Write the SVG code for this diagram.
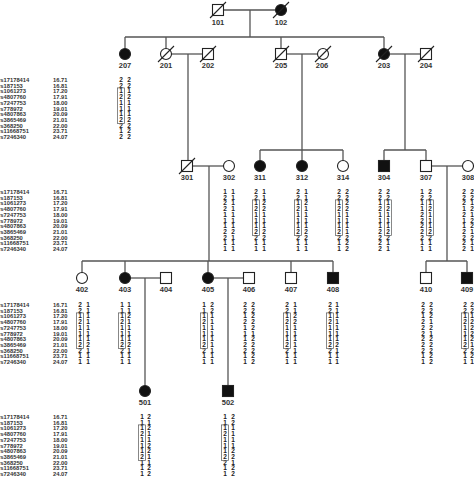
<svg xmlns="http://www.w3.org/2000/svg" xmlns:xlink="http://www.w3.org/1999/xlink" width="474" height="477" viewBox="0 0 474 477">
<style>
.ln{stroke:#555;stroke-width:1.3;fill:none}
.sym{stroke:#222;stroke-width:1.1;fill:#fff}
.aff{fill:#111}
.sl{stroke:#222;stroke-width:1.1}
.lb{font-family:"Liberation Sans",Arial,sans-serif;font-weight:bold;font-size:7.5px;fill:#333;text-anchor:middle}
.g{font-family:"Liberation Sans",Arial,sans-serif;font-weight:bold;font-size:6.5px;fill:#222;text-anchor:middle}
.mk{font-family:"Liberation Sans",Arial,sans-serif;font-weight:bold;font-size:5.8px;fill:#333}
.bx{fill:none;stroke:#555;stroke-width:0.7}
</style>
<defs>
<g id="markers">
<text class="mk"><tspan x="-2" y="0">rs17178414</tspan><tspan x="-2" y="5.7">rs187153</tspan><tspan x="-2" y="11.4">rs1061273</tspan><tspan x="-2" y="17.1">rs4807760</tspan><tspan x="-2" y="22.8">rs7247753</tspan><tspan x="-2" y="28.5">rs778972</tspan><tspan x="-2" y="34.2">rs4807863</tspan><tspan x="-2" y="39.9">rs3865469</tspan><tspan x="-2" y="45.6">rs368250</tspan><tspan x="-2" y="51.3">rs11668751</tspan><tspan x="-2" y="57">rs7246340</tspan></text>
<text class="mk"><tspan x="53" y="0">16.71</tspan><tspan x="53" y="5.7">16.81</tspan><tspan x="53" y="11.4">17.20</tspan><tspan x="53" y="17.1">17.91</tspan><tspan x="53" y="22.8">18.00</tspan><tspan x="53" y="28.5">19.01</tspan><tspan x="53" y="34.2">20.09</tspan><tspan x="53" y="39.9">21.01</tspan><tspan x="53" y="45.6">22.00</tspan><tspan x="53" y="51.3">23.71</tspan><tspan x="53" y="57">24.07</tspan></text>
</g>
</defs>

<g id="marker-lists">
<use xlink:href="#markers" href="#markers" x="0" y="82"/>
<use xlink:href="#markers" href="#markers" x="0" y="194"/>
<use xlink:href="#markers" href="#markers" x="0" y="307"/>
<use xlink:href="#markers" href="#markers" x="0" y="419"/>
</g>

<g id="connectors">
<line class="ln" x1="223.5" y1="10" x2="275.5" y2="10"/>
<line class="ln" x1="250" y1="10" x2="250" y2="37"/>
<line class="ln" x1="125" y1="37" x2="384" y2="37"/>
<line class="ln" x1="125" y1="37" x2="125" y2="48.5"/>
<line class="ln" x1="166" y1="37" x2="166" y2="48.5"/>
<line class="ln" x1="281" y1="37" x2="281" y2="48.5"/>
<line class="ln" x1="384" y1="37" x2="384" y2="48.5"/>
<line class="ln" x1="171.5" y1="54" x2="202.5" y2="54"/>
<line class="ln" x1="188" y1="54" x2="188" y2="160.5"/>
<line class="ln" x1="286.5" y1="54" x2="317.5" y2="54"/>
<line class="ln" x1="302" y1="54" x2="302" y2="150"/>
<line class="ln" x1="389.5" y1="54" x2="420.5" y2="54"/>
<line class="ln" x1="405" y1="54" x2="405" y2="150"/>
<line class="ln" x1="260" y1="150" x2="343" y2="150"/>
<line class="ln" x1="260" y1="150" x2="260" y2="160.5"/>
<line class="ln" x1="302" y1="150" x2="302" y2="160.5"/>
<line class="ln" x1="343" y1="150" x2="343" y2="160.5"/>
<line class="ln" x1="384" y1="150" x2="426" y2="150"/>
<line class="ln" x1="384" y1="150" x2="384" y2="160.5"/>
<line class="ln" x1="426" y1="150" x2="426" y2="160.5"/>
<line class="ln" x1="192.5" y1="166" x2="223.5" y2="166"/>
<line class="ln" x1="209" y1="166" x2="209" y2="261"/>
<line class="ln" x1="431.5" y1="166" x2="462.5" y2="166"/>
<line class="ln" x1="447" y1="166" x2="447" y2="261"/>
<line class="ln" x1="82" y1="261" x2="333" y2="261"/>
<line class="ln" x1="82" y1="261" x2="82" y2="272.5"/>
<line class="ln" x1="125" y1="261" x2="125" y2="272.5"/>
<line class="ln" x1="208" y1="261" x2="208" y2="272.5"/>
<line class="ln" x1="291" y1="261" x2="291" y2="272.5"/>
<line class="ln" x1="333" y1="261" x2="333" y2="272.5"/>
<line class="ln" x1="426" y1="261" x2="467" y2="261"/>
<line class="ln" x1="426" y1="261" x2="426" y2="272.5"/>
<line class="ln" x1="467" y1="261" x2="467" y2="272.5"/>
<line class="ln" x1="130.5" y1="278" x2="160.5" y2="278"/>
<line class="ln" x1="145" y1="278" x2="145" y2="385.5"/>
<line class="ln" x1="213.5" y1="278" x2="243.5" y2="278"/>
<line class="ln" x1="228" y1="278" x2="228" y2="385.5"/>
</g>

<g id="n101"><rect class="sym" x="212.5" y="4.5" width="11" height="11"/><line class="sl" x1="210" y1="18" x2="226" y2="2"/><text class="lb" x="218" y="24.5">101</text></g>
<g id="n102"><circle class="sym aff" cx="281" cy="10" r="5.5"/><line class="sl" x1="273" y1="18" x2="289" y2="2"/><text class="lb" x="281" y="24.5">102</text></g>

<g id="n207"><circle class="sym aff" cx="125" cy="54" r="5.5"/><text class="lb" x="125" y="68">207</text>
<text class="g" transform="translate(121,82)" x="0 0 0 0 0 0 0 0 0 0 0" y="0 5.7 11.4 17.1 22.8 28.5 34.2 39.9 45.6 51.3 57">22121112212</text>
<text class="g" transform="translate(129,82)" x="0 0 0 0 0 0 0 0 0 0 0" y="0 5.7 11.4 17.1 22.8 28.5 34.2 39.9 45.6 51.3 57">22121112222</text>
<rect class="bx" x="117.5" y="87.9" width="7" height="35.5"/></g>
<g id="n201"><circle class="sym" cx="166" cy="54" r="5.5"/><line class="sl" x1="158" y1="62" x2="174" y2="46"/><text class="lb" x="166" y="68">201</text></g>
<g id="n202"><rect class="sym" x="202.5" y="48.5" width="11" height="11"/><line class="sl" x1="200" y1="62" x2="216" y2="46"/><text class="lb" x="208" y="68">202</text></g>
<g id="n205"><rect class="sym" x="275.5" y="48.5" width="11" height="11"/><line class="sl" x1="273" y1="62" x2="289" y2="46"/><text class="lb" x="281" y="68">205</text></g>
<g id="n206"><circle class="sym" cx="323" cy="54" r="5.5"/><line class="sl" x1="315" y1="62" x2="331" y2="46"/><text class="lb" x="322" y="68">206</text></g>
<g id="n203"><circle class="sym aff" cx="384" cy="54" r="5.5"/><line class="sl" x1="376" y1="62" x2="392" y2="46"/><text class="lb" x="384" y="68">203</text></g>
<g id="n204"><rect class="sym" x="420.5" y="48.5" width="11" height="11"/><line class="sl" x1="418" y1="62" x2="434" y2="46"/><text class="lb" x="426" y="68">204</text></g>

<g id="n301"><rect class="sym" x="181.5" y="160.5" width="11" height="11"/><line class="sl" x1="179" y1="174" x2="195" y2="158"/><text class="lb" x="187" y="180">301</text></g>
<g id="n302"><circle class="sym" cx="229" cy="166" r="5.5"/><text class="lb" x="229" y="180">302</text>
<text class="g" transform="translate(225,194)" x="0 0 0 0 0 0 0 0 0 0 0" y="0 5.7 11.4 17.1 22.8 28.5 34.2 39.9 45.6 51.3 57">12221112211</text>
<text class="g" transform="translate(233,194)" x="0 0 0 0 0 0 0 0 0 0 0" y="0 5.7 11.4 17.1 22.8 28.5 34.2 39.9 45.6 51.3 57">11111112111</text></g>
<g id="n311"><circle class="sym aff" cx="260" cy="166" r="5.5"/><text class="lb" x="260" y="180">311</text>
<text class="g" transform="translate(256,194)" x="0 0 0 0 0 0 0 0 0 0 0" y="0 5.7 11.4 17.1 22.8 28.5 34.2 39.9 45.6 51.3 57">22121112211</text>
<text class="g" transform="translate(264,194)" x="0 0 0 0 0 0 0 0 0 0 0" y="0 5.7 11.4 17.1 22.8 28.5 34.2 39.9 45.6 51.3 57">11221112211</text>
<rect class="bx" x="252.5" y="199.9" width="7" height="35.5"/></g>
<g id="n312"><circle class="sym aff" cx="302" cy="166" r="5.5"/><text class="lb" x="302" y="180">312</text>
<text class="g" transform="translate(298,194)" x="0 0 0 0 0 0 0 0 0 0 0" y="0 5.7 11.4 17.1 22.8 28.5 34.2 39.9 45.6 51.3 57">22121112211</text>
<text class="g" transform="translate(306,194)" x="0 0 0 0 0 0 0 0 0 0 0" y="0 5.7 11.4 17.1 22.8 28.5 34.2 39.9 45.6 51.3 57">11211112211</text>
<rect class="bx" x="294.5" y="199.9" width="7" height="35.5"/></g>
<g id="n314"><circle class="sym" cx="343" cy="166" r="5.5"/><text class="lb" x="343" y="180">314</text>
<text class="g" transform="translate(339,194)" x="0 0 0 0 0 0 0 0 0 0 0" y="0 5.7 11.4 17.1 22.8 28.5 34.2 39.9 45.6 51.3 57">22121112211</text>
<text class="g" transform="translate(347,194)" x="0 0 0 0 0 0 0 0 0 0 0" y="0 5.7 11.4 17.1 22.8 28.5 34.2 39.9 45.6 51.3 57">22221111222</text>
<rect class="bx" x="335.5" y="199.9" width="7" height="35.5"/></g>
<g id="n304"><rect class="sym aff" x="378.5" y="160.5" width="11" height="11"/><text class="lb" x="384" y="180">304</text>
<text class="g" transform="translate(380,194)" x="0 0 0 0 0 0 0 0 0 0 0" y="0 5.7 11.4 17.1 22.8 28.5 34.2 39.9 45.6 51.3 57">22121112222</text>
<text class="g" transform="translate(388,194)" x="0 0 0 0 0 0 0 0 0 0 0" y="0 5.7 11.4 17.1 22.8 28.5 34.2 39.9 45.6 51.3 57">22121112211</text>
<rect class="bx" x="384.5" y="199.9" width="7" height="35.5"/></g>
<g id="n307"><rect class="sym" x="420.5" y="160.5" width="11" height="11"/><text class="lb" x="426" y="180">307</text>
<text class="g" transform="translate(422,194)" x="0 0 0 0 0 0 0 0 0 0 0" y="0 5.7 11.4 17.1 22.8 28.5 34.2 39.9 45.6 51.3 57">12112222211</text>
<text class="g" transform="translate(430,194)" x="0 0 0 0 0 0 0 0 0 0 0" y="0 5.7 11.4 17.1 22.8 28.5 34.2 39.9 45.6 51.3 57">22121112211</text>
<rect class="bx" x="426.5" y="199.9" width="7" height="35.5"/></g>
<g id="n308"><circle class="sym" cx="468" cy="166" r="5.5"/><text class="lb" x="468" y="180">308</text>
<text class="g" transform="translate(464,194)" x="0 0 0 0 0 0 0 0 0 0 0" y="0 5.7 11.4 17.1 22.8 28.5 34.2 39.9 45.6 51.3 57">22212112222</text>
<text class="g" transform="translate(472,194)" x="0 0 0 0 0 0 0 0 0 0 0" y="0 5.7 11.4 17.1 22.8 28.5 34.2 39.9 45.6 51.3 57">22121221211</text></g>

<g id="n402"><circle class="sym" cx="82" cy="278" r="5.5"/><text class="lb" x="82" y="292">402</text>
<text class="g" transform="translate(80,307)" x="0 0 0 0 0 0 0 0 0 0 0" y="0 5.7 11.4 17.1 22.8 28.5 34.2 39.9 45.6 51.3 57">22121112211</text>
<text class="g" transform="translate(88,307)" x="0 0 0 0 0 0 0 0 0 0 0" y="0 5.7 11.4 17.1 22.8 28.5 34.2 39.9 45.6 51.3 57">11111112111</text>
<rect class="bx" x="76.5" y="312.9" width="7" height="35.5"/></g>
<g id="n403"><circle class="sym aff" cx="125" cy="278" r="5.5"/><text class="lb" x="125" y="292">403</text>
<text class="g" transform="translate(122,307)" x="0 0 0 0 0 0 0 0 0 0 0" y="0 5.7 11.4 17.1 22.8 28.5 34.2 39.9 45.6 51.3 57">11121112211</text>
<text class="g" transform="translate(129,307)" x="0 0 0 0 0 0 0 0 0 0 0" y="0 5.7 11.4 17.1 22.8 28.5 34.2 39.9 45.6 51.3 57">11211112111</text>
<rect class="bx" x="118.5" y="312.9" width="7" height="35.5"/></g>
<g id="n404"><rect class="sym" x="160.5" y="272.5" width="11" height="11"/><text class="lb" x="166" y="292">404</text></g>
<g id="n405"><circle class="sym aff" cx="208" cy="278" r="5.5"/><text class="lb" x="208" y="292">405</text>
<text class="g" transform="translate(204,307)" x="0 0 0 0 0 0 0 0 0 0 0" y="0 5.7 11.4 17.1 22.8 28.5 34.2 39.9 45.6 51.3 57">11121112211</text>
<text class="g" transform="translate(212,307)" x="0 0 0 0 0 0 0 0 0 0 0" y="0 5.7 11.4 17.1 22.8 28.5 34.2 39.9 45.6 51.3 57">22111111111</text>
<rect class="bx" x="200.5" y="312.9" width="7" height="35.5"/></g>
<g id="n406"><rect class="sym" x="243.5" y="272.5" width="11" height="11"/><text class="lb" x="249" y="292">406</text>
<text class="g" transform="translate(245,307)" x="0 0 0 0 0 0 0 0 0 0 0" y="0 5.7 11.4 17.1 22.8 28.5 34.2 39.9 45.6 51.3 57">22121112211</text>
<text class="g" transform="translate(253,307)" x="0 0 0 0 0 0 0 0 0 0 0" y="0 5.7 11.4 17.1 22.8 28.5 34.2 39.9 45.6 51.3 57">22222122222</text></g>
<g id="n407"><rect class="sym" x="285.5" y="272.5" width="11" height="11"/><text class="lb" x="291" y="292">407</text>
<text class="g" transform="translate(287,307)" x="0 0 0 0 0 0 0 0 0 0 0" y="0 5.7 11.4 17.1 22.8 28.5 34.2 39.9 45.6 51.3 57">22121112211</text>
<text class="g" transform="translate(295,307)" x="0 0 0 0 0 0 0 0 0 0 0" y="0 5.7 11.4 17.1 22.8 28.5 34.2 39.9 45.6 51.3 57">11221111111</text>
<rect class="bx" x="283.5" y="312.9" width="7" height="35.5"/></g>
<g id="n408"><rect class="sym aff" x="327.5" y="272.5" width="11" height="11"/><text class="lb" x="333" y="292">408</text>
<text class="g" transform="translate(330,307)" x="0 0 0 0 0 0 0 0 0 0 0" y="0 5.7 11.4 17.1 22.8 28.5 34.2 39.9 45.6 51.3 57">22121112211</text>
<text class="g" transform="translate(337,307)" x="0 0 0 0 0 0 0 0 0 0 0" y="0 5.7 11.4 17.1 22.8 28.5 34.2 39.9 45.6 51.3 57">11111112111</text>
<rect class="bx" x="326.5" y="312.9" width="7" height="35.5"/></g>
<g id="n410"><rect class="sym" x="420.5" y="272.5" width="11" height="11"/><text class="lb" x="426" y="292">410</text>
<text class="g" transform="translate(423,307)" x="0 0 0 0 0 0 0 0 0 0 0" y="0 5.7 11.4 17.1 22.8 28.5 34.2 39.9 45.6 51.3 57">22122222211</text>
<text class="g" transform="translate(431,307)" x="0 0 0 0 0 0 0 0 0 0 0" y="0 5.7 11.4 17.1 22.8 28.5 34.2 39.9 45.6 51.3 57">22212122222</text></g>
<g id="n409"><rect class="sym aff" x="461.5" y="272.5" width="11" height="11"/><text class="lb" x="467" y="292">409</text>
<text class="g" transform="translate(465,307)" x="0 0 0 0 0 0 0 0 0 0 0" y="0 5.7 11.4 17.1 22.8 28.5 34.2 39.9 45.6 51.3 57">22121112211</text>
<text class="g" transform="translate(472,307)" x="0 0 0 0 0 0 0 0 0 0 0" y="0 5.7 11.4 17.1 22.8 28.5 34.2 39.9 45.6 51.3 57">22122221221</text>
<rect class="bx" x="461.5" y="312.9" width="7" height="35.5"/></g>

<g id="n501"><circle class="sym aff" cx="145" cy="391" r="5.5"/><text class="lb" x="145" y="405">501</text>
<text class="g" transform="translate(142,419)" x="0 0 0 0 0 0 0 0 0 0 0" y="0 5.7 11.4 17.1 22.8 28.5 34.2 39.9 45.6 51.3 57">11121112111</text>
<text class="g" transform="translate(149,419)" x="0 0 0 0 0 0 0 0 0 0 0" y="0 5.7 11.4 17.1 22.8 28.5 34.2 39.9 45.6 51.3 57">21211221122</text>
<rect class="bx" x="138.5" y="424.9" width="7" height="35.5"/></g>
<g id="n502"><rect class="sym aff" x="222.5" y="385.5" width="11" height="11"/><text class="lb" x="228" y="405">502</text>
<text class="g" transform="translate(225,419)" x="0 0 0 0 0 0 0 0 0 0 0" y="0 5.7 11.4 17.1 22.8 28.5 34.2 39.9 45.6 51.3 57">11121112211</text>
<text class="g" transform="translate(233,419)" x="0 0 0 0 0 0 0 0 0 0 0" y="0 5.7 11.4 17.1 22.8 28.5 34.2 39.9 45.6 51.3 57">22111122122</text>
<rect class="bx" x="221.5" y="424.9" width="7" height="35.5"/></g>
</svg>
